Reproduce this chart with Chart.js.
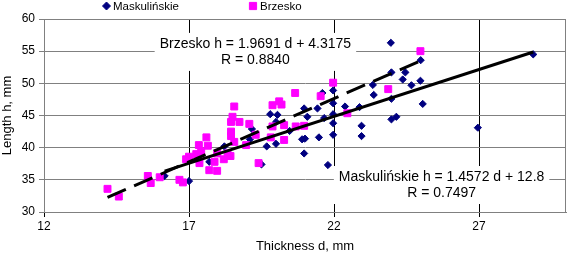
<!DOCTYPE html>
<html><head><meta charset="utf-8">
<script src="https://cdn.jsdelivr.net/npm/chart.js@4/dist/chart.umd.min.js"></script>
<style>html,body{margin:0;padding:0;background:#fff}#wrap{width:568px;height:255px}</style>
</head><body><div id="wrap"><canvas id="c" width="568" height="255"></canvas></div>
<script>
const seriesNames = ['Maskulińskie', 'Brzesko'];
const maskD = [16.16,17.0,17.7,18.22,19.1,19.17,19.5,19.68,20.0,19.8,20.05,20.0,20.47,20.9,21.0,20.97,21.48,21.79,20.97,21.08,21.43,21.6,21.66,21.97,21.97,21.97,21.97,21.97,22.38,22.88,22.95,22.95,23.34,23.37,23.96,23.98,23.98,23.98,24.15,24.37,24.46,24.67,24.98,24.99,25.06,26.96,28.87];
const maskH = [35.6,34.8,37.8,40.2,41.3,42.9,37.4,40.2,40.6,45.2,45.1,44.0,42.6,41.3,41.4,39.1,41.6,37.3,46.1,44.8,46.1,48.5,44.6,48.9,46.9,45.2,43.8,42.0,46.4,46.3,43.4,41.8,49.75,48.2,56.3,51.7,47.6,44.4,44.8,50.6,51.7,49.7,50.4,53.6,46.8,43.1,54.5];
const brzD = [14.19,14.58,15.58,15.68,15.99,16.67,16.79,16.9,17.0,17.25,17.34,17.6,17.36,17.7,17.97,17.97,17.88,18.2,18.43,18.45,18.56,18.97,19.4,18.33,18.56,18.5,18.45,18.74,19.08,18.45,17.65,17.42,19.3,19.82,19.88,19.88,21.97,20.66,20.11,20.19,21.54,20.28,20.68,20.97,20.28,22.46,24.98,23.87];
const brzH = [33.6,32.4,35.6,34.5,35.4,35.0,34.6,38.2,38.6,39.0,40.4,41.6,37.6,36.5,36.4,39.1,37.8,38.2,38.7,41.8,40.9,40.4,37.6,39.1,46.4,44.8,44.0,44.0,43.7,42.5,40.3,39.4,42.0,41.6,46.6,43.3,50.1,48.5,47.2,46.7,48.0,43.5,43.3,43.4,41.2,45.35,55.0,49.1];
const xTicks = [12, 17, 22, 27];
const yTicks = [30, 35, 40, 45, 50, 55, 60];
const xMin = 12, xMax = 30;
const trendSlope = [1.4572, 1.9691];
const trendIntercept = [12.8, 4.3175];
const trendR = [0.7497, 0.8840];
const trendLabelPos = [[25.71, 35.44], [19.29, 56.13]];

const FONT = '"Liberation Sans", Arial, sans-serif';
const toPts = (xs, ys) => xs.map((x, i) => ({x: x, y: ys[i]}));
function trend(i, xs) {
  const a = Math.min(...xs), b = Math.max(...xs);
  return [{x: a, y: trendSlope[i] * a + trendIntercept[i]}, {x: b, y: trendSlope[i] * b + trendIntercept[i]}];
}

const legendPlugin = {
  id: 'customLegend',
  afterDraw(chart) {
    const ctx = chart.ctx;
    const items = [{ds: 3, x: 106.5, tx: 113}, {ds: 2, x: 253, tx: 260}];
    ctx.save();
    items.forEach(it => {
      const d = chart.data.datasets[it.ds];
      ctx.fillStyle = d.backgroundColor;
      ctx.strokeStyle = d.borderColor;
      ctx.lineWidth = 1;
      const y = 6;
      ctx.beginPath();
      if (d.pointStyle === 'rectRot') {
        const r = 4;
        ctx.moveTo(it.x - r, y); ctx.lineTo(it.x, y - r); ctx.lineTo(it.x + r, y); ctx.lineTo(it.x, y + r);
      } else {
        const s = 3.6;
        ctx.rect(it.x - s, y - s, 2 * s, 2 * s);
      }
      ctx.closePath(); ctx.fill(); ctx.stroke();
      ctx.fillStyle = '#000';
      ctx.font = '11.5px ' + FONT;
      ctx.textBaseline = 'middle';
      ctx.textAlign = 'left';
      ctx.fillText(d.label, it.tx, y + 1);
    });
    ctx.restore();
  }
};

const framePlugin = {
  id: 'frame',
  beforeDatasetsDraw(chart) {
    const a = chart.chartArea, ctx = chart.ctx;
    ctx.save();
    ctx.strokeStyle = '#808080';
    ctx.lineWidth = 1;
    ctx.strokeRect(Math.round(a.left) + 0.5, Math.round(a.top) + 0.5, Math.round(a.right - a.left) - 1, Math.round(a.bottom - a.top));
    ctx.restore();
  }
};

const labelPlugin = {
  id: 'trendLabels',
  afterDatasetsDraw(chart) {
    const ctx = chart.ctx, xs = chart.scales.x, ys = chart.scales.y;
    ctx.save();
    ctx.font = '14px ' + FONT;
    ctx.textAlign = 'center';
    ctx.textBaseline = 'middle';
    [0, 1].forEach(i => {
      const l1 = seriesNames[i] + ' h = ' + trendSlope[i] + ' d + ' + trendIntercept[i];
      const l2 = 'R = ' + trendR[i].toFixed(4);
      const cx = xs.getPixelForValue(trendLabelPos[i][0]);
      const cy = ys.getPixelForValue(trendLabelPos[i][1]);
      const w = Math.max(ctx.measureText(l1).width, ctx.measureText(l2).width) + 10;
      ctx.fillStyle = '#fff';
      ctx.fillRect(cx - w / 2, cy - 11, w, 38);
      ctx.fillStyle = '#000';
      ctx.fillText(l1, cx, cy);
      ctx.fillText(l2, cx, cy + 16);
    });
    ctx.restore();
  }
};

new Chart(document.getElementById('c'), {
  data: {
    datasets: [
      {type: 'line', label: 'trendB', data: trend(1, brzD), borderColor: '#000', borderWidth: 3, borderDash: [20, 9], pointRadius: 0, fill: false},
      {type: 'line', label: 'trendM', data: trend(0, maskD), borderColor: '#000', borderWidth: 3, pointRadius: 0, fill: false},
      {type: 'scatter', label: seriesNames[1], data: toPts(brzD, brzH), pointStyle: 'rect', pointRadius: 4.9, backgroundColor: '#FF00FF', borderColor: '#FF00FF', borderWidth: 1},
      {type: 'scatter', label: seriesNames[0], data: toPts(maskD, maskH), pointStyle: 'rectRot', pointRadius: 3.6, backgroundColor: '#000080', borderColor: '#000080', borderWidth: 1}
    ]
  },
  options: {
    responsive: false,
    animation: false,
    layout: {autoPadding: false, padding: {top: 19, right: 2, left: 0, bottom: 0}},
    plugins: {legend: {display: false}, tooltip: {enabled: false}},
    scales: {
      x: {
        type: 'linear', min: xMin, max: xMax,
        afterBuildTicks: s => { s.ticks = xTicks.map(v => ({value: v})); },
        afterFit: s => { s.height = 43; s.paddingLeft = 0; s.paddingRight = 0; },
        grid: {color: '#000', lineWidth: 1, tickLength: 5, drawTicks: true},
        border: {display: true, color: '#808080'},
        ticks: {font: {family: FONT, size: 12}, color: '#000', padding: 2, maxRotation: 0, autoSkip: false},
        title: {display: true, text: 'Thickness d, mm', font: {family: FONT, size: 13}, color: '#000', padding: {top: 0, bottom: 1}}
      },
      y: {
        type: 'linear', min: 30, max: 60,
        afterBuildTicks: s => { s.ticks = yTicks.map(v => ({value: v})); },
        afterFit: s => { s.width = 44; },
        grid: {color: '#808080', lineWidth: 1, tickLength: 5, drawTicks: true},
        border: {display: true, color: '#808080'},
        ticks: {font: {family: FONT, size: 12}, color: '#000', padding: 4},
        title: {display: true, text: 'Length h, mm', font: {family: FONT, size: 13}, color: '#000', padding: {top: 0, bottom: 0}}
      }
    }
  },
  plugins: [framePlugin, labelPlugin, legendPlugin]
});
</script></body></html>
